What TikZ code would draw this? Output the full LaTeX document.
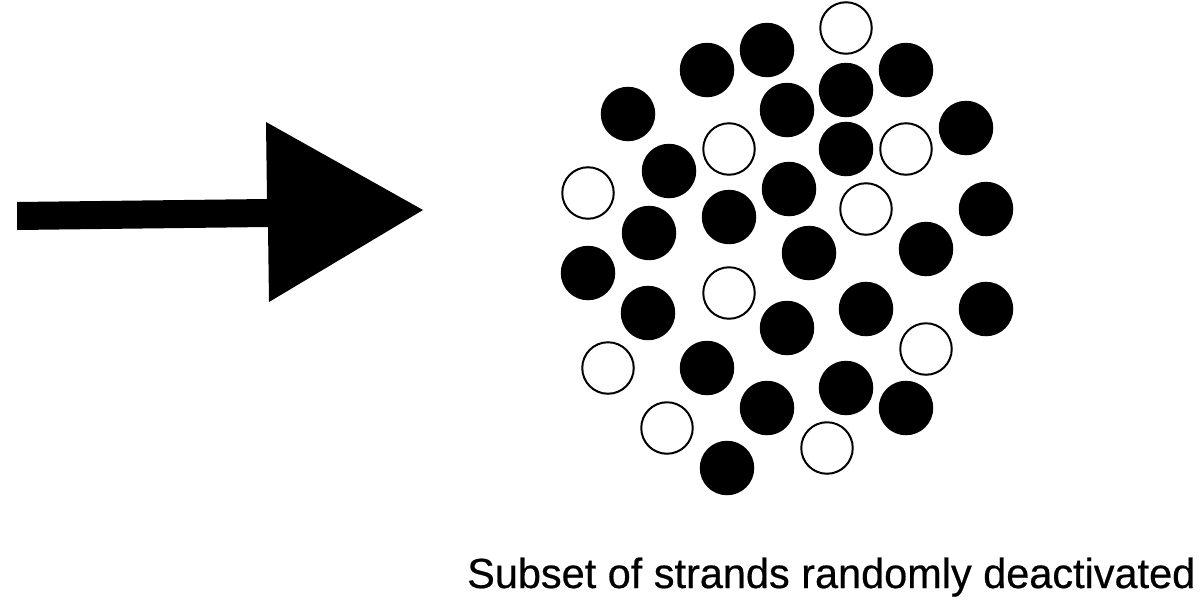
\documentclass[tikz,border=0pt]{standalone}
\usepackage{fontspec}
\setmainfont{Liberation Sans}
\newfontfamily\capfont[FakeBold=0.5]{Liberation Sans}
\begin{document}
\begin{tikzpicture}[x=1pt,y=-1pt,
  on/.style={circle,fill=black,inner sep=0pt,minimum size=54.5pt},
  off/.style={circle,draw=black,line width=2pt,fill=white,inner sep=0pt,minimum size=51.5pt},
  caption/.style={anchor=base west,inner sep=0pt,text=black,font=\capfont}]
\useasboundingbox (0,0) rectangle (1200,600);
% arrow
\fill[black] (17,202) -- (267,199) -- (266,122) -- (423,210) -- (269,302) -- (268,227) -- (17,230) -- cycle;
% strands
\node[off] (c1) at (846,28) {};
\node[on] (c2) at (707,70) {};
\node[on] (c3) at (767,50) {};
\node[on] (c4) at (906,70) {};
\node[on] (c5) at (846,90) {};
\node[on] (c6) at (628,114) {};
\node[on] (c7) at (787,110) {};
\node[on] (c8) at (966,128) {};
\node[off] (c9) at (729,149) {};
\node[on] (c10) at (846,149) {};
\node[off] (c11) at (906,149) {};
\node[on] (c12) at (669,171) {};
\node[off] (c13) at (588,193) {};
\node[on] (c14) at (789,189) {};
\node[off] (c15) at (866,209) {};
\node[on] (c16) at (986,209) {};
\node[on] (c17) at (729,217) {};
\node[on] (c18) at (649,233) {};
\node[on] (c19) at (809,253) {};
\node[on] (c20) at (926,249) {};
\node[on] (c21) at (588,273) {};
\node[off] (c22) at (729,293) {};
\node[on] (c23) at (648,313) {};
\node[on] (c24) at (787,328) {};
\node[on] (c25) at (866,309) {};
\node[on] (c26) at (986,309) {};
\node[off] (c27) at (926,349) {};
\node[off] (c28) at (608,368) {};
\node[on] (c29) at (707,368) {};
\node[on] (c30) at (846,388) {};
\node[on] (c31) at (767,408) {};
\node[on] (c32) at (906,408) {};
\node[off] (c33) at (667,428) {};
\node[off] (c34) at (827,448) {};
\node[on] (c35) at (727,468) {};
% caption
\node[caption] (cap) at (467,588) {\resizebox{728pt}{30.5pt}{Subset of strands randomly deactivated}};
\end{tikzpicture}
\end{document}
